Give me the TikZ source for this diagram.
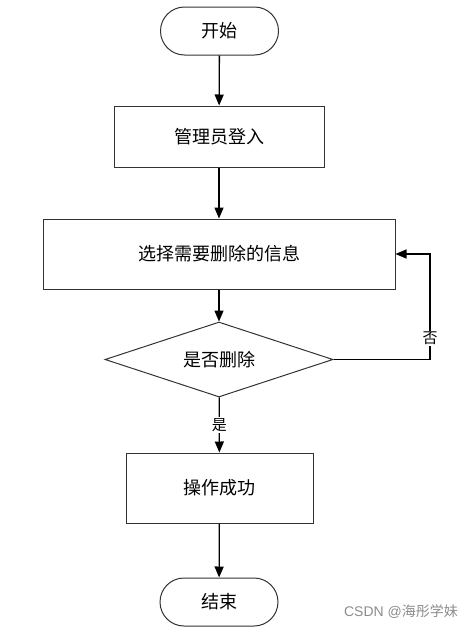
\documentclass[tikz,border=0pt]{standalone}
\usepackage{fontspec}
\newfontfamily\cjk{Noto Sans CJK SC}
\usetikzlibrary{arrows.meta,shapes.geometric}
\begin{document}
\begin{tikzpicture}[x=1pt,y=-1pt,
  every node/.style={font=\cjk\fontsize{18}{21}\selectfont},
  shp/.style={draw=black!80,line width=1pt},
  term/.style={shp,rectangle,rounded corners=24pt,minimum width=118pt,minimum height=48pt},
  arr/.style={line width=1.3pt,-{Triangle[length=11pt,width=9pt]}},
  lbl/.style={font=\cjk\fontsize{15}{18}\selectfont,fill=white,inner sep=1pt}]
\useasboundingbox (0,0) rectangle (474,632);
\node[term] (start) at (219.5,31) {开始};
\node[shp,minimum width=210pt,minimum height=61pt] (login) at (219,136.5) {管理员登入};
\node[shp,minimum width=352pt,minimum height=70pt] (select) at (219,254) {选择需要删除的信息};
\node[shp,diamond,aspect=3,minimum width=228pt,minimum height=75pt,inner sep=0pt] (dec) at (219,359.5) {是否删除};
\node[shp,minimum width=187pt,minimum height=70pt] (ok) at (219.5,488) {操作成功};
\node[term] (end) at (219,602) {结束};
\coordinate (c1) at (430,359.5);
\coordinate (c2) at (430,254);
\draw[arr] (start) -- (login);
\draw[arr] (login) -- (select);
\draw[arr] (select) -- (dec);
\draw[arr] (dec) -- node[lbl,pos=0.5] {是} (ok);
\draw[arr] (ok) -- (end);
\draw[arr] (dec.east) -- (c1) -- node[lbl,pos=0.2] {否} (c2) -- (select.east);
\node[font=\fontspec{Liberation Sans}\fontsize{14}{16}\selectfont,text=black!45] (wm) at (401,612) {CSDN @{\cjk 海彤学妹}};
\end{tikzpicture}
\end{document}
